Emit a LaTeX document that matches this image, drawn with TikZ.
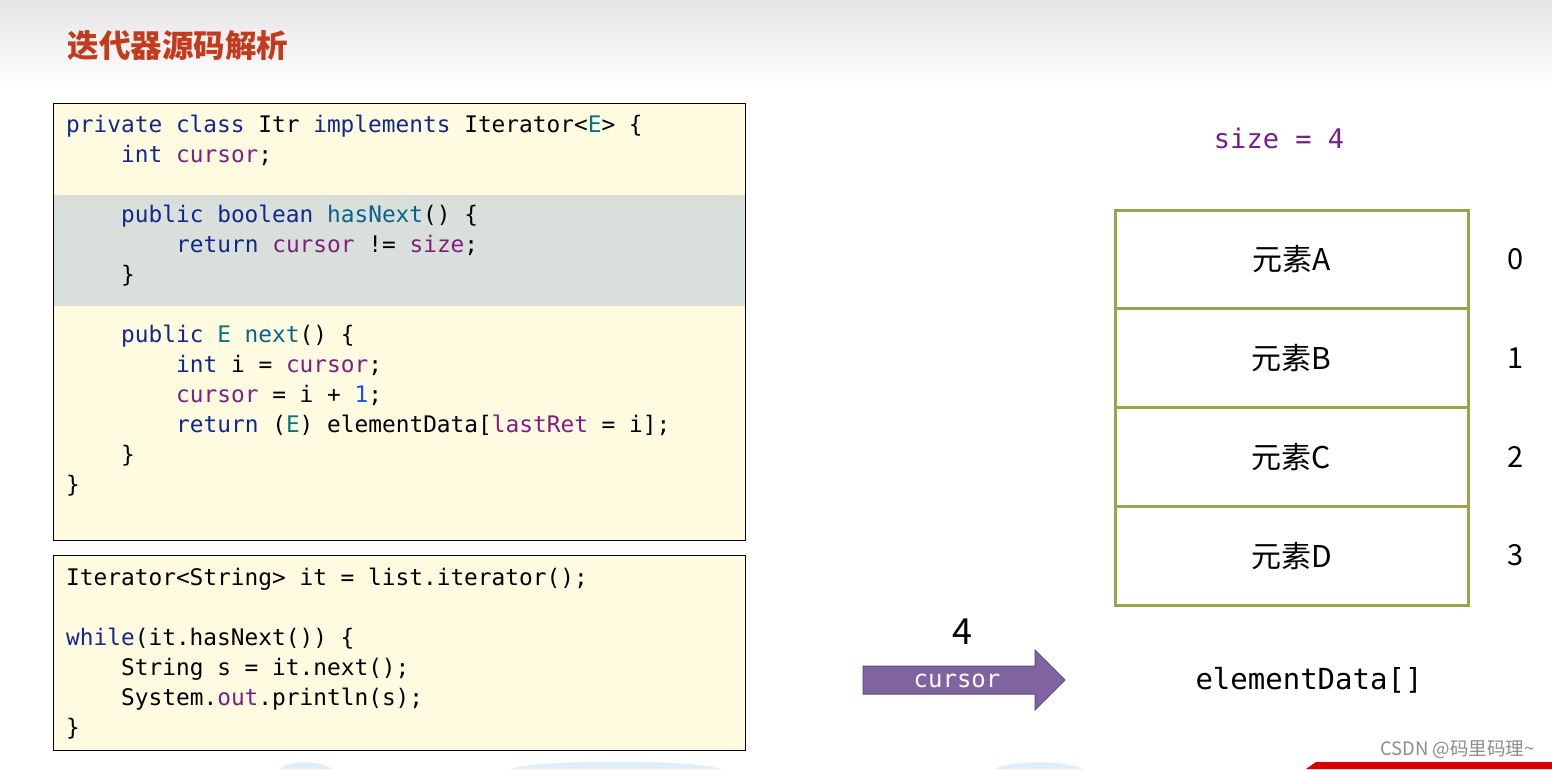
\documentclass[tikz,border=0pt]{standalone}
\usepackage{fontspec}
\setmonofont{DejaVu Sans Mono}
\newfontfamily\cjkfont{Noto Sans CJK SC}
\usetikzlibrary{shapes.arrows}

\definecolor{titlered}{RGB}{196,58,28}
\definecolor{codebg}{RGB}{255,251,224}
\definecolor{hlgray}{RGB}{217,224,220}
\definecolor{kwblue}{RGB}{16,40,140}
\definecolor{fnblue}{RGB}{10,98,140}
\definecolor{fdpurple}{RGB}{128,30,128}
\definecolor{tyteal}{RGB}{0,120,128}
\definecolor{nbblue}{RGB}{23,80,235}
\definecolor{sizepurple}{RGB}{120,30,140}
\definecolor{cellgreen}{RGB}{152,165,72}
\definecolor{arrowpurple}{RGB}{128,100,162}
\definecolor{arrowedge}{RGB}{94,74,126}
\definecolor{wavyblue}{RGB}{222,238,250}

\newcommand{\kw}[1]{\textcolor{kwblue}{#1}}
\newcommand{\fn}[1]{\textcolor{fnblue}{#1}}
\newcommand{\fd}[1]{\textcolor{fdpurple}{#1}}
\newcommand{\ty}[1]{\textcolor{tyteal}{#1}}
\newcommand{\nb}[1]{\textcolor{nbblue}{#1}}

\begin{document}
\begin{tikzpicture}[x=1pt, y=-1pt,
    codeline/.style={anchor=base west, inner sep=0pt, font=\fontsize{22.8}{30}\selectfont\ttfamily},
    codebox/.style={draw=black, line width=1pt, fill=codebg, anchor=north west, inner sep=0pt},
    cell/.style={draw=cellgreen, line width=3pt, fill=white, minimum width=353pt, minimum height=98.75pt,
        font=\fontsize{30}{36}\selectfont\cjkfont},
    idx/.style={font=\fontsize{29}{34}\selectfont\cjkfont}]
    \useasboundingbox (0,0) rectangle (1552,769);
    \fill[white] (0,0) rectangle (1552,769);
    \shade[top color=black!10, bottom color=white] (0,0) rectangle (1552,90);

    % title
    \node[anchor=west, text=titlered, font=\fontsize{31.5}{36}\selectfont\cjkfont\bfseries] (title) at (64,46) {迭代器源码解析};

    % Itr source
    \node[codebox, minimum width=692pt, minimum height=437pt] (itrbox) at (53,103) {};
    \fill[hlgray] (53.5,195) rectangle (744.5,306);
    \foreach \k/\ind/\txt in {
        0/0/{\kw{private class} Itr \kw{implements} Iterator<\ty{E}> \{},
        1/1/{\kw{int} \fd{cursor};},
        3/1/{\kw{public boolean} \fn{hasNext}() \{},
        4/2/{\kw{return} \fd{cursor} != \fd{size};},
        5/1/{\}},
        7/1/{\kw{public} \ty{E} \fn{next}() \{},
        8/2/{\kw{int} i = \fd{cursor};},
        9/2/{\fd{cursor} = i + \nb{1};},
        10/2/{\kw{return} (\ty{E}) elementData[\fd{lastRet} = i];},
        11/1/{\}},
        12/0/{\}}}
        \node[codeline] (itr\k) at (66+55*\ind, 132+30*\k) {\txt};

    % loop
    \node[codebox, minimum width=692pt, minimum height=195pt] (loopbox) at (53,555) {};
    \foreach \k/\ind/\txt in {
        0/0/{Iterator<String> it = list.iterator();},
        2/0/{\kw{while}(it.hasNext()) \{},
        3/1/{String s = it.next();},
        4/1/{System.\fd{out}.println(s);},
        5/0/{\}}}
        \node[codeline] (loop\k) at (66+55*\ind, 585+30*\k) {\txt};

    % array
    \node[font=\fontsize{27}{32}\selectfont\ttfamily, text=sizepurple] (size) at (1279,138) {size = 4};
    \foreach \i/\t in {0/A, 1/B, 2/C, 3/D} {
        \node[cell] (cell\i) at (1291.5, 259.4+98.75*\i) {元素\t};
        \node[idx] (idx\i) at (1516, 259.4+98.75*\i) {\i};
    }
    \node[font=\fontsize{29}{34}\selectfont\ttfamily] (edata) at (1309,680) {elementData[]};

    % cursor
    \node[single arrow, fill=arrowpurple, draw=arrowedge, line width=1pt, text=white,
        font=\fontsize{24}{28}\selectfont\ttfamily, minimum height=202pt, single arrow head extend=16pt,
        inner ysep=0pt, inner xsep=0pt, text height=21pt, text depth=6pt] (cur) at (957,680) {cursor};
    \node[font=\fontsize{36}{40}\selectfont\cjkfont] (cval) at (962,632) {4};

    % footer
    \fill[wavyblue] (280,769) .. controls (290,760) and (320,760) .. (332,769) -- cycle;
    \fill[wavyblue] (510,769) .. controls (540,759) and (690,759) .. (722,769) -- cycle;
    \fill[wavyblue] (995,769) .. controls (1010,760) and (1065,760) .. (1082,769) -- cycle;
    \fill[red!85!black] (1306,769) -- (1316,762) -- (1552,762) -- (1552,769) -- cycle;
    \node[anchor=east, text=black!45, font=\fontsize{18.5}{22}\selectfont\cjkfont] (mark) at (1538,750) {CSDN @码里码理\textasciitilde};
\end{tikzpicture}
\end{document}
